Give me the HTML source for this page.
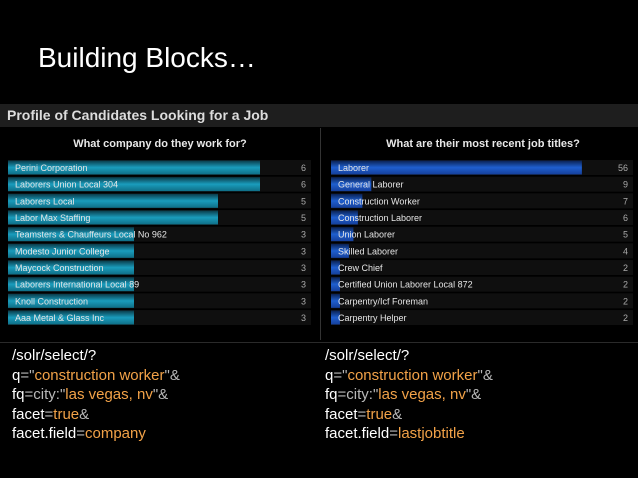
<!DOCTYPE html>
<html><head><meta charset="utf-8">
<style>
body{margin:0;background:#000;width:638px;height:478px;overflow:hidden;font-family:"Liberation Sans",sans-serif;position:relative}
.abs{position:absolute}
.q{color:#fff;font-size:15px;line-height:19.5px}
.o{color:#f2a248}.g{color:#b8b8b8}
</style></head><body>
<div class="abs" style="left:38px;top:42px;color:#fff;font-size:28px">Building Blocks…</div>
<div class="abs" style="left:0;top:104px;width:638px;height:23px;background:#1e1e1e"></div>
<div class="abs" style="left:7px;top:107px;color:#ddd;font-size:14px;font-weight:bold">Profile of Candidates Looking for a Job</div>
<div class="abs" style="left:320px;top:128px;width:1px;height:212px;background:#333"></div>
<div class="abs" style="left:0;top:342px;width:638px;height:1px;background:#2a2a2a"></div>
<svg class="abs" style="left:0;top:0" width="638" height="478" id="chart">
<defs>
<linearGradient id="gt" x1="0" y1="0" x2="0" y2="1"><stop offset="0" stop-color="#0a3a48"/><stop offset="0.5" stop-color="#1a9cbc"/><stop offset="1" stop-color="#0f6e86"/></linearGradient>
<linearGradient id="gb" x1="0" y1="0" x2="0" y2="1"><stop offset="0" stop-color="#0a2050"/><stop offset="0.5" stop-color="#1f5fcf"/><stop offset="1" stop-color="#153f9a"/></linearGradient>
</defs>
<text x="160" y="147" fill="#e8e8e8" font-size="11" font-weight="bold" text-anchor="middle">What company do they work for?</text>
<text x="483" y="147" fill="#e8e8e8" font-size="11" font-weight="bold" text-anchor="middle">What are their most recent job titles?</text>
</svg>
<div class="abs q" style="left:12px;top:346px">/solr/select/?<br>q<span class="g">="</span><span class="o">construction worker</span><span class="g">"&amp;</span><br>fq<span class="g">=city:"</span><span class="o">las vegas, nv</span><span class="g">"&amp;</span><br>facet<span class="g">=</span><span class="o">true</span><span class="g">&amp;</span><br>facet.field<span class="g">=</span><span class="o">company</span></div>
<div class="abs q" style="left:325px;top:346px">/solr/select/?<br>q<span class="g">="</span><span class="o">construction worker</span><span class="g">"&amp;</span><br>fq<span class="g">=city:"</span><span class="o">las vegas, nv</span><span class="g">"&amp;</span><br>facet<span class="g">=</span><span class="o">true</span><span class="g">&amp;</span><br>facet.field<span class="g">=</span><span class="o">lastjobtitle</span></div>
<script>
const companies=["Perini Corporation","Laborers Union Local 304","Laborers Local","Labor Max Staffing","Teamsters & Chauffeurs Local No 962","Modesto Junior College","Maycock Construction","Laborers International Local 89","Knoll Construction","Aaa Metal & Glass Inc"];
const companyCounts=[6,6,5,5,3,3,3,3,3,3];
const titles=["Laborer","General Laborer","Construction Worker","Construction Laborer","Union Laborer","Skilled Laborer","Crew Chief","Certified Union Laborer Local 872","Carpentry/Icf Foreman","Carpentry Helper"];
const titleCounts=[56,9,7,6,5,4,2,2,2,2];
const svg=document.getElementById('chart');
const NS='http://www.w3.org/2000/svg';
function draw(cats,vals,x0,x1,pxPerUnit,grad,prefix){
  const y=i=>160+i*16.67;
  cats.forEach((c,i)=>{
    const bg=document.createElementNS(NS,'rect');
    bg.setAttribute('x',x0);bg.setAttribute('y',y(i));bg.setAttribute('width',x1-x0);bg.setAttribute('height',15);bg.setAttribute('fill','#0f0f0f');
    
    
    svg.appendChild(bg);
    const r=document.createElementNS(NS,'rect');
    r.setAttribute('x',x0);r.setAttribute('y',y(i)+0.5);r.setAttribute('width',vals[i]*pxPerUnit);r.setAttribute('height',14);r.setAttribute('fill',grad);
    
    
    svg.appendChild(r);
    const t=document.createElementNS(NS,'text');
    t.setAttribute('x',x0+7);t.setAttribute('y',y(i)+11);t.setAttribute('fill','#e6e6e6');t.setAttribute('font-size','9');
    t.textContent=c;
    
    
    svg.appendChild(t);
    const v=document.createElementNS(NS,'text');
    v.setAttribute('x',x1-5);v.setAttribute('y',y(i)+11);v.setAttribute('fill','#aaa');v.setAttribute('font-size','9');v.setAttribute('text-anchor','end');
    v.textContent=vals[i];
    
    
    svg.appendChild(v);
  });
}
draw(companies,companyCounts,8,311,42,'url(#gt)','company');
draw(titles,titleCounts,331,633,4.48,'url(#gb)','jobtitle');
</script>
</body></html>
